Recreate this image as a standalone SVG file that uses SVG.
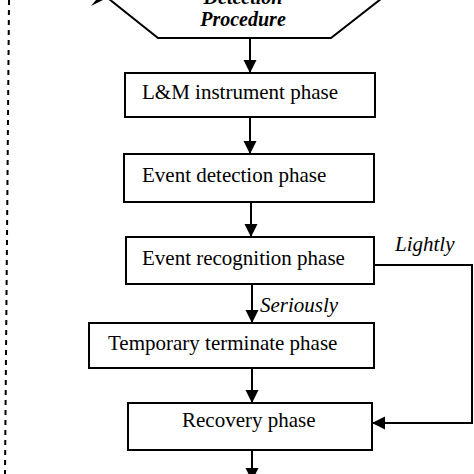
<svg xmlns="http://www.w3.org/2000/svg" width="474" height="474" viewBox="0 0 474 474">
<defs>
<style>
.box{fill:#fff;stroke:#000;stroke-width:2}
.lbl{font-family:"Liberation Serif","Times New Roman",serif;font-size:21px;fill:#000}
.it{font-style:italic}
.bi{font-style:italic;font-weight:bold;font-size:20px}
.ln{fill:none;stroke:#000;stroke-width:2}
</style>
<marker id="ah" markerUnits="userSpaceOnUse" markerWidth="14" markerHeight="14" refX="13" refY="6.5" orient="auto">
<path d="M0,0 L13,6.5 L0,13 Z" fill="#000"/>
</marker>
</defs>
<rect width="474" height="474" fill="#fff"/>
<g id="feedback">
<line x1="9" y1="0" x2="5" y2="474" stroke="#000" stroke-width="2" stroke-dasharray="5 5"/>
<polygon points="91,6 96,0 103,0" fill="#000"/>
</g>
<g id="detection-procedure">
<path class="ln" d="M104,-5 L158,38 L331,38 L386,-5" />
<text class="lbl bi" x="243" y="4" text-anchor="middle">Detection</text>
<text class="lbl bi" x="243" y="26" text-anchor="middle">Procedure</text>
</g>
<g id="lm-instrument">
<rect class="box" x="125" y="73" width="250" height="44"/>
<text class="lbl" x="142" y="99">L&amp;M instrument phase</text>
</g>
<g id="event-detection">
<rect class="box" x="124" y="154" width="250" height="48"/>
<text class="lbl" x="142" y="182">Event detection phase</text>
</g>
<g id="event-recognition">
<rect class="box" x="126" y="237" width="248" height="47"/>
<text class="lbl" x="142" y="265">Event recognition phase</text>
</g>
<g id="temporary-terminate">
<rect class="box" x="89" y="323" width="285" height="45"/>
<text class="lbl" x="108" y="350">Temporary terminate phase</text>
</g>
<g id="recovery">
<rect class="box" x="128" y="403" width="244" height="47"/>
<text class="lbl" x="182" y="427">Recovery phase</text>
</g>
<g id="connectors">
<line class="ln" x1="250" y1="38" x2="250" y2="73" marker-end="url(#ah)"/>
<line class="ln" x1="250" y1="117" x2="250" y2="154" marker-end="url(#ah)"/>
<line class="ln" x1="251" y1="202" x2="251" y2="237" marker-end="url(#ah)"/>
<line class="ln" x1="252" y1="284" x2="252" y2="323" marker-end="url(#ah)"/>
<text class="lbl it" x="260" y="312">Seriously</text>
<line class="ln" x1="252" y1="368" x2="252" y2="403" marker-end="url(#ah)"/>
<polyline class="ln" points="374,265 472,265 472,423 372,423" marker-end="url(#ah)"/>
<text class="lbl it" x="395" y="251">Lightly</text>
<line class="ln" x1="252" y1="450" x2="252" y2="481" marker-end="url(#ah)"/>
</g>
</svg>
